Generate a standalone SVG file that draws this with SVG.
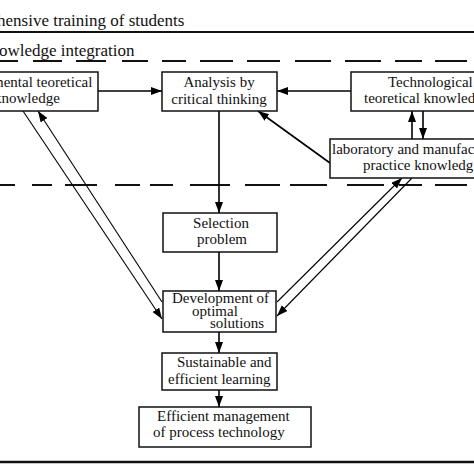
<svg xmlns="http://www.w3.org/2000/svg" width="474" height="474" viewBox="0 0 474 474">
<defs>
<marker id="ah" markerUnits="userSpaceOnUse" markerWidth="12" markerHeight="10" refX="11" refY="4" orient="auto">
<path d="M0,0 L11,4 L0,8 Z" fill="#000"/>
</marker>
<style>
.t{font-family:"Liberation Serif","Times New Roman",serif;font-size:15px;fill:#111}
.h{font-family:"Liberation Serif","Times New Roman",serif;font-size:17px;fill:#111}
.box{fill:#fff;stroke:#111;stroke-width:1.5}
.c{stroke:#000;stroke-width:1.6;fill:none}
.d{stroke:#000;stroke-width:1.1;fill:none}
.rule{stroke:#111;stroke-width:2;fill:none}
</style>
</defs>
<rect width="474" height="474" fill="#fff"/>
<g id="header">
<text class="h" x="-3" y="26">hensive training of students</text>
<line class="rule" x1="0" y1="32" x2="474" y2="32"/>
<text class="h" x="-1" y="56">owledge integration</text>
<path class="rule" d="M0,61H18 M33,61H62 M76,61H106 M122,61H148 M162,61H186 M200,61H233 M247,61H280 M295,61H331 M345,61H381 M395,61H422 M435,61H467"/>
<path class="rule" d="M0,185H15 M32,185H52 M65,185H97 M115,185H140 M150,185H173 M190,185H230 M245,185H280 M290,185H327 M347,185H384 M399,185H422 M435,185H467"/>
<line x1="0" y1="462" x2="474" y2="462" stroke="#111" stroke-width="2.5"/>
</g>
<g id="connectors">
<line class="c" x1="98" y1="91" x2="162" y2="91" marker-end="url(#ah)"/>
<line class="c" x1="351" y1="91" x2="277" y2="91" marker-end="url(#ah)"/>
<line class="c" x1="330" y1="163" x2="258" y2="111" marker-end="url(#ah)"/>
<line class="c" x1="412" y1="139" x2="412" y2="111" marker-end="url(#ah)"/>
<line class="c" x1="423" y1="111" x2="423" y2="139" marker-end="url(#ah)"/>
<line class="c" x1="219" y1="111" x2="219" y2="213" marker-end="url(#ah)"/>
<line class="c" x1="219" y1="252" x2="219" y2="291" marker-end="url(#ah)"/>
<line class="c" x1="219" y1="332" x2="219" y2="353" marker-end="url(#ah)"/>
<line class="c" x1="219" y1="390" x2="219" y2="407" marker-end="url(#ah)"/>
<line class="d" x1="23" y1="111" x2="162" y2="319" marker-end="url(#ah)"/>
<line class="d" x1="162" y1="302" x2="38" y2="111" marker-end="url(#ah)"/>
<line class="d" x1="277" y1="302" x2="402" y2="178" marker-end="url(#ah)"/>
<line class="d" x1="412" y1="178" x2="277" y2="316" marker-end="url(#ah)"/>
</g>
<g id="fundamental">
<rect class="box" x="-5" y="72" width="103" height="39"/>
<text class="t" x="-8" y="87">mental teoretical</text>
<text class="t" x="-6" y="103">knowledge</text>
</g>
<g id="analysis">
<rect class="box" x="162" y="72" width="115" height="39"/>
<text class="t" x="219" y="87" text-anchor="middle">Analysis by</text>
<text class="t" x="219" y="104" text-anchor="middle">critical thinking</text>
</g>
<g id="technological">
<rect class="box" x="351" y="72" width="130" height="39"/>
<text class="t" x="388" y="87">Technological</text>
<text class="t" x="364" y="103">teoretical knowled</text>
</g>
<g id="laboratory">
<rect class="box" x="330" y="139" width="150" height="39"/>
<text class="t" x="332" y="154">laboratory and manufac</text>
<text class="t" x="363" y="170">practice knowledg</text>
</g>
<g id="selection">
<rect class="box" x="163" y="213" width="114" height="39"/>
<text class="t" x="221" y="228" text-anchor="middle">Selection</text>
<text class="t" x="222" y="244" text-anchor="middle">problem</text>
</g>
<g id="development">
<rect class="box" x="163" y="291" width="113" height="41"/>
<text class="t" x="172" y="303">Development of</text>
<text class="t" x="192" y="316">optimal</text>
<text class="t" x="210" y="328">solutions</text>
</g>
<g id="sustainable">
<rect class="box" x="162" y="353" width="115" height="37"/>
<text class="t" x="177" y="367">Sustainable and</text>
<text class="t" x="168" y="384">efficient learning</text>
</g>
<g id="efficient">
<rect class="box" x="139" y="407" width="172" height="40"/>
<text class="t" x="157" y="421">Efficient management</text>
<text class="t" x="153" y="437">of process technology</text>
</g>
</svg>
